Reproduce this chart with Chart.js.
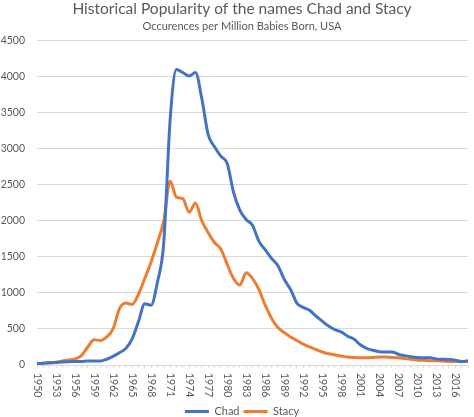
<!DOCTYPE html>
<html>
<head>
<meta charset="utf-8">
<script src="https://cdn.jsdelivr.net/npm/chart.js@4"></script>
<style>
  html, body { margin: 0; padding: 0; background: #fff; }
</style>
</head>
<body>
<canvas id="nameChart" width="474" height="417"></canvas>
<script>
// Years on the x axis (one point per year)
const years = [
  '1950','1951','1952','1953','1954','1955','1956','1957','1958','1959',
  '1960','1961','1962','1963','1964','1965','1966','1967','1968','1969',
  '1970','1971','1972','1973','1974','1975','1976','1977','1978','1979',
  '1980','1981','1982','1983','1984','1985','1986','1987','1988','1989',
  '1990','1991','1992','1993','1994','1995','1996','1997','1998','1999',
  '2000','2001','2002','2003','2004','2005','2006','2007','2008','2009',
  '2010','2011','2012','2013','2014','2015','2016','2017','2018'
];

// Labels actually printed under the axis
const tickYears = [
  '1950','1953','1956','1959','1962','1965','1968','1971','1974','1977','1980',
  '1983','1986','1989','1992','1995','1998','2001','2004','2007','2010','2013','2016'
];

// Occurences per million babies born
const chad = [
  20, 25, 30, 35, 40, 45, 50, 50, 55, 55,
  55, 80, 120, 170, 230, 360, 600, 850, 830, 1150,
  1700, 3400, 4100, 4060, 4010, 4060, 3700, 3200, 3030, 2900,
  2800, 2400, 2150, 2020, 1940, 1720, 1600, 1480, 1380, 1190,
  1050, 860, 800, 760, 680, 610, 540, 490, 460, 400,
  360, 280, 230, 205, 185, 180, 180, 150, 130, 115,
  105, 100, 100, 85, 80, 75, 65, 50, 55
];

const stacy = [
  20, 25, 30, 40, 55, 70, 85, 130, 250, 350,
  340, 390, 500, 780, 860, 840, 980, 1200, 1430, 1700,
  2000, 2550, 2330, 2310, 2120, 2250, 2000, 1840, 1700, 1610,
  1400, 1200, 1110, 1280, 1200, 1050, 830, 650, 520, 450,
  390, 340, 290, 250, 215, 180, 155, 140, 125, 110,
  105, 100, 100, 105, 110, 110, 105, 100, 90, 80,
  70, 65, 60, 60, 55, 50, 50, 45, 60
];

const textColor = '#595959';
const gridColor = '#d9d9d9';
const fontFamily = 'Lato, "Open Sans", sans-serif';

// Excel style year labels: rotated clockwise, reading top to bottom
const rotatedYearLabels = {
  id: 'rotatedYearLabels',
  afterDraw(chart) {
    const scale = chart.scales.x;
    const ctx = chart.ctx;
    ctx.save();
    ctx.font = '10.5px ' + fontFamily;
    ctx.fillStyle = textColor;
    ctx.textAlign = 'left';
    ctx.textBaseline = 'middle';
    tickYears.forEach(year => {
      const x = scale.getPixelForValue(years.indexOf(year));
      ctx.save();
      ctx.translate(x, scale.top + 8);
      ctx.rotate(Math.PI / 2);
      ctx.fillText(year, 0, 0);
      ctx.restore();
    });
    ctx.restore();
  }
};

// title, subtitle and legend sit a bit right of the canvas centre in the original
const nudgeHeaders = {
  id: 'nudgeHeaders',
  afterLayout(chart) {
    chart.boxes.forEach(box => {
      if (box.fullSize && !box.axis) {
        box.left += 16;
      }
    });
  }
};

function renderChart() {
  const ctx = document.getElementById('nameChart').getContext('2d');

  new Chart(ctx, {
    type: 'line',
    data: {
      labels: years,
      datasets: [
        {
          label: 'Chad',
          data: chad,
          borderColor: '#4472C4',
          backgroundColor: '#4472C4',
          borderWidth: 3,
          pointRadius: 0,
          tension: 0.4,
          cubicInterpolationMode: 'monotone'
        },
        {
          label: 'Stacy',
          data: stacy,
          borderColor: '#ED7D31',
          backgroundColor: '#ED7D31',
          borderWidth: 3,
          pointRadius: 0,
          tension: 0.4,
          cubicInterpolationMode: 'monotone'
        }
      ]
    },
    options: {
      responsive: false,
      animation: false,
      layout: { padding: { top: 0, right: 6, bottom: -10, left: 0 } },
      plugins: {
        title: {
          display: true,
          text: 'Historical Popularity of the names Chad and Stacy',
          color: textColor,
          font: { family: fontFamily, size: 15.5, weight: 'normal' },
          padding: { top: 0, bottom: 1 }
        },
        subtitle: {
          display: true,
          text: 'Occurences per Million Babies Born, USA',
          color: textColor,
          font: { family: fontFamily, size: 11, weight: 'normal' },
          padding: { top: 0, bottom: 8 }
        },
        legend: {
          position: 'bottom',
          labels: {
            boxWidth: 24,
            boxHeight: 3,
            padding: 4,
            color: textColor,
            font: { family: fontFamily, size: 11 },
            generateLabels(chart) {
              return Chart.defaults.plugins.legend.labels.generateLabels(chart)
                .map(item => Object.assign(item, { lineWidth: 0 }));
            }
          }
        },
        tooltip: { enabled: false }
      },
      scales: {
        x: {
          offset: false,
          grid: { drawOnChartArea: false, drawTicks: true, tickLength: 3, color: gridColor },
          border: { color: gridColor },
          ticks: { display: false },
          afterFit(scale) { scale.height = 37; }
        },
        y: {
          min: 0,
          max: 4500,
          ticks: {
            stepSize: 500,
            padding: 12,
            color: textColor,
            font: { family: fontFamily, size: 10.5 },
            callback: value => String(value)
          },
          grid: { color: gridColor, drawTicks: false },
          border: { display: false },
          afterFit(scale) { scale.width = 37; }
        }
      }
    },
    plugins: [rotatedYearLabels, nudgeHeaders]
  });
}

document.addEventListener('DOMContentLoaded', function () {
  renderChart();
});
</script>
</body>
</html>
